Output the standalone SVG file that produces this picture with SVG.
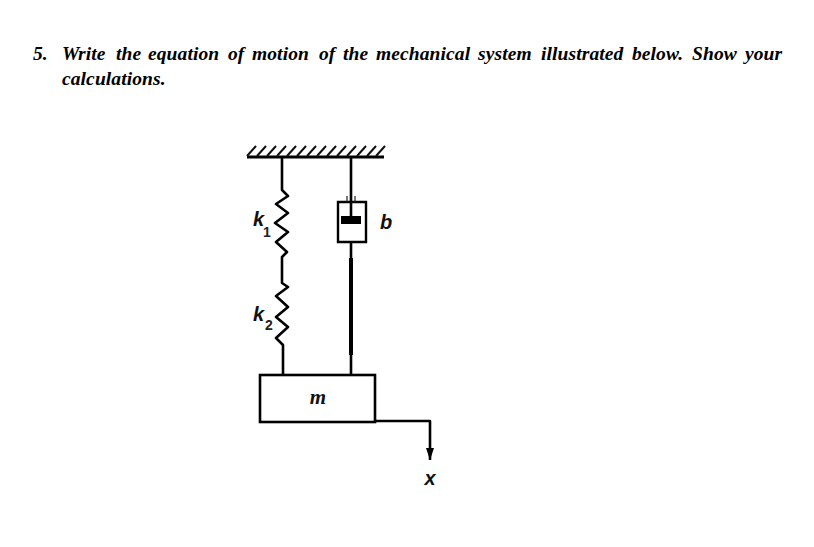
<svg xmlns="http://www.w3.org/2000/svg" width="814" height="547" viewBox="0 0 814 547">
<style>
.q{font:italic bold 19.5px "Liberation Serif",serif;fill:#000;letter-spacing:.1px}
.l{font:italic bold 20px "Liberation Sans",sans-serif;fill:#111}
.s{font:bold 14px "Liberation Sans",sans-serif;fill:#222}
.w{fill:none;stroke:#000;stroke-width:2.6;stroke-linejoin:round}
.t{fill:none;stroke:#000;stroke-width:3}
.h{fill:none;stroke:#111;stroke-width:2}
</style>
<defs><marker id="arrow" markerWidth="13" markerHeight="9" refX="12" refY="4" orient="auto" markerUnits="userSpaceOnUse"><path d="M0 0L12 4L0 8Z" fill="#000"/></marker></defs>
<rect width="814" height="547" fill="#fff"/>
<g id="question">
<text class="q" x="33" y="60">5.</text>
<text class="q" y="60"><tspan x="62">Write</tspan><tspan x="116">the</tspan><tspan x="148">equation</tspan><tspan x="228">of</tspan><tspan x="252">motion</tspan><tspan x="319">of</tspan><tspan x="343">the</tspan><tspan x="376">mechanical</tspan><tspan x="478">system</tspan><tspan x="541">illustrated</tspan><tspan x="632">below.</tspan><tspan x="692">Show</tspan><tspan x="745">your</tspan></text>
<text class="q" x="62" y="85">calculations.</text>
</g>
<g id="ceiling">
<path class="t" d="M247 157H384"/>
<path class="h" d="M247 156l9-10M257 156l9-10M267 156l9-10M277 156l9-10M287 156l9-10M297 156l9-10M307 156l9-10M317 156l9-10M327 156l9-10M337 156l9-10M347 156l9-10M357 156l9-10M367 156l9-10M376 156l9-10"/>
</g>
<g id="connectors">
<path class="w" d="M282 157V190L288 196L276 204L288 213L275 223L288 232L276 242L287 252L282 257V283L288 287L276 296L288 307L276 317L288 327L276 338L283 345V375"/>
<path class="w" d="M351 157V218"/>
<path class="w" d="M351 242V258"/>
<path d="M351 258V355" fill="none" stroke="#000" stroke-width="4"/>
<path class="w" d="M351 355V375"/>
<path class="w" d="M375 421H430V460" marker-end="url(#arrow)"/>
</g>
<g id="k1"><text class="l" x="253" y="226">k</text><text class="s" x="263" y="237">1</text></g>
<g id="k2"><text class="l" x="253" y="321">k</text><text class="s" x="265" y="330">2</text></g>
<g id="damper">
<path d="M338 202H366V242H338Z" fill="none" stroke="#000" stroke-width="2.4"/>
<path d="M347 202V196M355 202V196" stroke="#222" stroke-width="1.2" fill="none"/>
<rect x="341" y="216" width="20" height="8" fill="#000"/>
<text class="l" x="380" y="229">b</text>
</g>
<g id="mass">
<rect x="260" y="375" width="115" height="47" fill="none" stroke="#000" stroke-width="2.6"/>
<text x="318" y="404" text-anchor="middle" style="font:italic bold 21px 'Liberation Serif',serif;fill:#111">m</text>
</g>
<g id="x-label"><text class="l" x="430" y="485" text-anchor="middle">x</text></g>
</svg>
